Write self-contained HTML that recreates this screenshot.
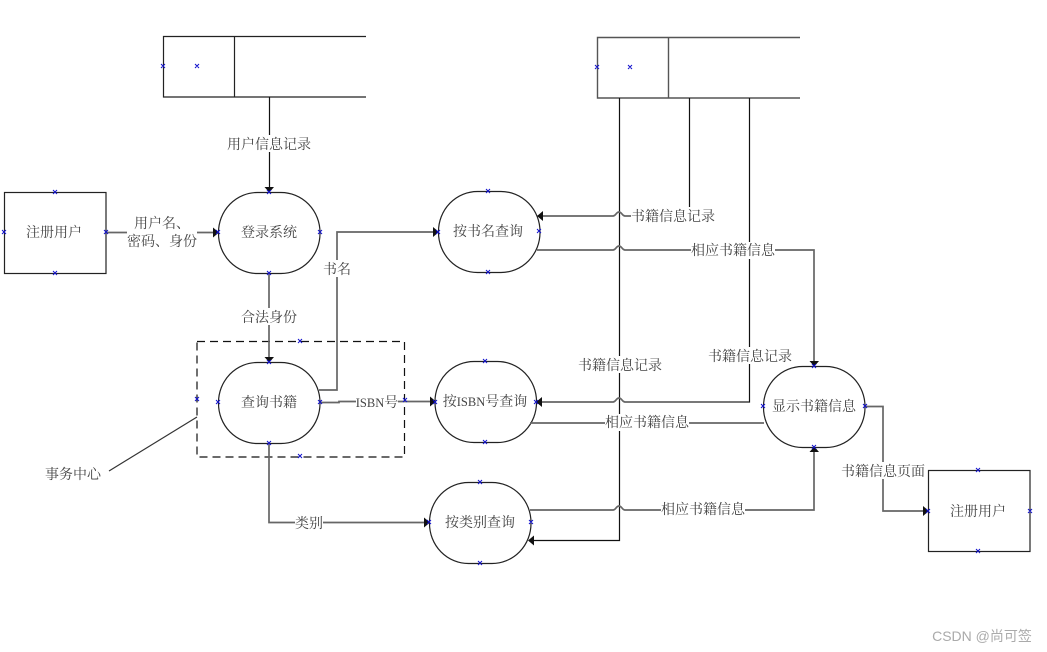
<!DOCTYPE html>
<html><head><meta charset="utf-8"><style>
html,body{margin:0;padding:0;background:#fff}
svg{display:block}
text{font-family:"Liberation Serif","Noto Serif CJK SC",serif;font-size:14px;fill:#444;text-anchor:middle}
tspan.n{font-size:12.5px}
</style></head><body>
<svg width="1047" height="652" viewBox="0 0 1047 652" xmlns="http://www.w3.org/2000/svg">
<rect width="1047" height="652" fill="#fff"/>
<g fill="none" stroke="#222" stroke-width="1.2">
<!-- stores -->
<path d="M366 36.500H163.500V97H366M234.500 36.500V97"/>
<path stroke="#555" d="M800 37.500H597.500V98H800M668.500 37.500V98" stroke-width="1.400"/>
<!-- externals -->
<rect x="4.500" y="192.500" width="101.500" height="81"/>
<rect x="928.500" y="470.500" width="101.500" height="81"/>
<!-- processes -->
<rect x="218.500" y="192.500" width="101.500" height="81" rx="39" ry="40"/>
<rect x="438.500" y="191.500" width="101.500" height="81" rx="39" ry="40"/>
<rect x="218.500" y="362.500" width="101.500" height="81" rx="39" ry="40"/>
<rect x="435" y="361.500" width="101.500" height="81" rx="39" ry="40"/>
<rect x="429.500" y="482.500" width="101.500" height="81" rx="39" ry="40"/>
<rect x="763.500" y="366.500" width="101.500" height="81" rx="39" ry="40"/>
<!-- dashed boundary -->
<rect x="197" y="341.500" width="207.500" height="115.500" stroke="#111" stroke-dasharray="8 5"/>
<path d="M197 417L109 471" stroke="#333"/>
<!-- black store lines -->
<path d="M269.500 97V188M619.500 98V540.500H531M689.500 98V216M749.500 98V402H740" stroke="#111"/>
</g>
<g fill="none" stroke="#666" stroke-width="1.700">
<path d="M106 232.500H214"/>
<path d="M269 273V358"/>
<path d="M319 390H337V232H434"/>
<path d="M320 402.500H339V401.500H431"/>
<path d="M269 443V522.500H425"/>
<path d="M689 216H625C622 216 622 212 619 212C616 212 616 216 613 216H541"/>
<path d="M749 402H625C622 402 622 398 619 398C616 398 616 402 613 402H541"/>
<path d="M537 250H613C616 250 616 246 619 246C622 246 622 250 625 250H814V362"/>
<path d="M530 423H764"/>
<path d="M530 510H613C616 510 616 506 619 506C622 506 622 510 625 510H814V451"/>
<path d="M865 406.500H883V511H924"/>
</g>
<!-- arrowheads -->
<g fill="#111">
<path d="M264.500 187H274L269.300 192.500Z"/>
<path d="M213 227.500V237.500L219 232.500Z"/>
<path d="M264.500 357H274L269.300 362.500Z"/>
<path d="M433 227V237L439 232Z"/>
<path d="M430 396.500V406.500L436 401.500Z"/>
<path d="M424 517.500V527.500L430 522.500Z"/>
<path d="M543 211V221L537 216Z"/>
<path d="M542 397V407L536 402Z"/>
<path d="M534 535.500V545.500L528 540.500Z"/>
<path d="M809.500 361H819L814.300 366.500Z"/>
<path d="M809.500 452H819L814.300 446.500Z"/>
<path d="M923 506V516L929 511Z"/>
</g>
<!-- label backgrounds -->
<g fill="#fff">
<rect x="226" y="135" width="86" height="17"/>
<rect x="127" y="214" width="70" height="36"/>
<rect x="323" y="260" width="28" height="17"/>
<rect x="241" y="308" width="56" height="17"/>
<rect x="356" y="393" width="42" height="17"/>
<rect x="295" y="514" width="28" height="17"/>
<rect x="631" y="207" width="84" height="17"/>
<rect x="691" y="242" width="84" height="17"/>
<rect x="578" y="356" width="84" height="17"/>
<rect x="709" y="347" width="83" height="17"/>
<rect x="605" y="414" width="84" height="17"/>
<rect x="661" y="501" width="84" height="17"/>
<rect x="841" y="462" width="84" height="17"/>
</g>
<!-- labels -->
<g transform="translate(0 1)">
<text x="269" y="148">用户信息记录</text>
<text x="162" y="227">用户名、</text>
<text x="162" y="245">密码、身份</text>
<text x="337" y="273">书名</text>
<text x="269" y="321">合法身份</text>
<text x="377" y="406"><tspan class="n">ISBN</tspan>号</text>
<text x="309" y="527">类别</text>
<text x="673" y="220">书籍信息记录</text>
<text x="733" y="254">相应书籍信息</text>
<text x="620" y="369">书籍信息记录</text>
<text x="750" y="360">书籍信息记录</text>
<text x="647" y="426">相应书籍信息</text>
<text x="703" y="513">相应书籍信息</text>
<text x="883" y="475">书籍信息页面</text>
<text x="54" y="236">注册用户</text>
<text x="269" y="236">登录系统</text>
<text x="488" y="235">按书名查询</text>
<text x="269" y="406">查询书籍</text>
<text x="485" y="405">按<tspan class="n">ISBN</tspan>号查询</text>
<text x="480" y="526">按类别查询</text>
<text x="814" y="410">显示书籍信息</text>
<text x="978" y="515">注册用户</text>
<text x="73" y="478">事务中心</text>
</g>
<text x="982" y="641" style="font-family:'Liberation Sans','Noto Sans CJK SC',sans-serif;font-size:14px;fill:#aaa">CSDN @尚可签</text>
<!-- connection point marks -->
<path fill="none" stroke="#11c" stroke-width="1" d="M53 190l4 4m0-4l-4 4M53 271l4 4m0-4l-4 4M2 230l4 4m0-4l-4 4M104 230l4 4m0-4l-4 4M267 190l4 4m0-4l-4 4M267 271l4 4m0-4l-4 4M216 230l4 4m0-4l-4 4M318 230l4 4m0-4l-4 4M161 64l4 4m0-4l-4 4M195 64l4 4m0-4l-4 4M595 65l4 4m0-4l-4 4M628 65l4 4m0-4l-4 4M486 189l4 4m0-4l-4 4M486 270l4 4m0-4l-4 4M436 230l4 4m0-4l-4 4M537 229l4 4m0-4l-4 4M267 360l4 4m0-4l-4 4M267 441l4 4m0-4l-4 4M216 400l4 4m0-4l-4 4M318 400l4 4m0-4l-4 4M298 339l4 4m0-4l-4 4M298 454l4 4m0-4l-4 4M195 397l4 4m0-4l-4 4M403 398l4 4m0-4l-4 4M483 359l4 4m0-4l-4 4M483 440l4 4m0-4l-4 4M433 400l4 4m0-4l-4 4M534 400l4 4m0-4l-4 4M478 480l4 4m0-4l-4 4M478 561l4 4m0-4l-4 4M427 520l4 4m0-4l-4 4M529 520l4 4m0-4l-4 4M812 364l4 4m0-4l-4 4M812 445l4 4m0-4l-4 4M761 404l4 4m0-4l-4 4M863 404l4 4m0-4l-4 4M976 468l4 4m0-4l-4 4M976 549l4 4m0-4l-4 4M926 509l4 4m0-4l-4 4M1028 509l4 4m0-4l-4 4"/>
</svg>
</body></html>
